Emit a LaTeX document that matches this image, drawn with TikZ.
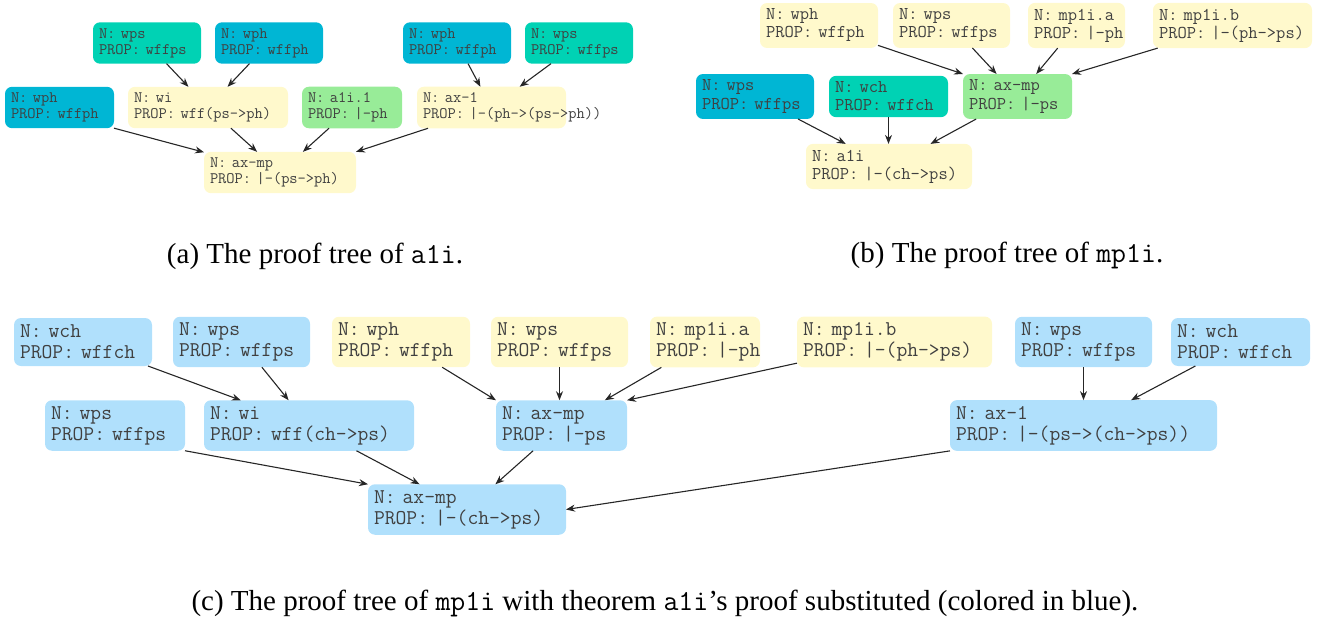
\documentclass[tikz,border=0pt]{standalone}
\usepackage{fontspec}
\setmainfont{Liberation Serif}
\usetikzlibrary{arrows.meta}
\definecolor{cteal}{RGB}{0,210,180}
\definecolor{cblue}{RGB}{0,182,212}
\definecolor{cyel}{RGB}{255,249,204}
\definecolor{cgreen}{RGB}{152,236,152}
\definecolor{clblue}{RGB}{176,224,252}
\newcommand\mybox[9]{%
 \node[box,fill=#6,font=\ttfamily\fontsize{#9}{#9}\selectfont,minimum width={(#4-#2)*1pt},minimum height={(#5-#3)*1pt},text width={(#4-#2-12)*1pt}] (#1) at ({(#2+#4)/2},{(#3+#5)/2}) {N:~#7\\PROP:~#8};}
\begin{document}
\begin{tikzpicture}[x=1pt,y=-1pt,
 box/.style={rounded corners=7pt,draw=none,align=left,inner sep=6pt,text=black!75,line width=0pt},
 ar/.style={-{Stealth[length=9pt,width=7pt]},line width=1.1pt,black!85},
 captxt/.style={font=\fontsize{29}{32}\selectfont}]
\useasboundingbox (0,0) rectangle (1325,623);
% panel a
\mybox{a1}{93}{24}{201}{62}{cteal}{wps}{wffps}{16}
\mybox{a2}{215}{24}{323}{62}{cblue}{wph}{wffph}{16}
\mybox{a3}{403}{24}{511}{62}{cblue}{wph}{wffph}{16}
\mybox{a4}{525}{24}{633}{62}{cteal}{wps}{wffps}{16}
\mybox{a5}{5}{89}{114}{126}{cblue}{wph}{wffph}{16}
\mybox{a6}{128}{89}{288}{126}{cyel}{wi}{wff(ps->ph)}{16}
\mybox{a7}{302}{89}{402}{126}{cgreen}{a1i.1}{|-ph}{16}
\mybox{a8}{417}{89}{566}{126}{cyel}{ax-1}{|-(ph->(ps->ph))}{16}
\mybox{a9}{204}{154}{356}{191}{cyel}{ax-mp}{|-(ps->ph)}{16}
\draw[ar] (a1) -- (a6); \draw[ar] (a2) -- (a6);
\draw[ar] (a3) -- (a8); \draw[ar] (a4) -- (a8);
\draw[ar] (a5.south east) -- (a9); \draw[ar] (a6) -- (a9);
\draw[ar] (a7) -- (a9); \draw[ar] (a8) -- (a9.north east);
\node[captxt] (ca) at (315,256) {(a) The proof tree of {\ttfamily a1i}.};
% panel b
\mybox{b1}{760}{5}{878}{46}{cyel}{wph}{wffph}{18}
\mybox{b2}{893}{5}{1010}{46}{cyel}{wps}{wffps}{18}
\mybox{b3}{1028}{5}{1125}{46}{cyel}{mp1i.a}{|-ph}{18}
\mybox{b4}{1153}{5}{1312}{46}{cyel}{mp1i.b}{|-(ph->ps)}{18}
\mybox{b5}{696}{76}{814}{117}{cblue}{wps}{wffps}{18}
\mybox{b6}{829}{76}{948}{117}{cteal}{wch}{wffch}{18}
\mybox{b7}{963}{76}{1072}{117}{cgreen}{ax-mp}{|-ps}{18}
\mybox{b8}{806}{146}{972}{187}{cyel}{a1i}{|-(ch->ps)}{18}
\draw[ar] (b1) -- (b7.north west); \draw[ar] (b2) -- (b7); \draw[ar] (b3) -- (b7);
\draw[ar] (b4) -- (b7.north east);
\draw[ar] (b5) -- (b8); \draw[ar] (b6) -- (b6|-b8.north); \draw[ar] (b7) -- (b8);
\node[captxt] (cb) at (1007,256) {(b) The proof tree of {\ttfamily mp1i}.};
% panel c
\mybox{c1}{14}{318}{152}{366}{clblue}{wch}{wffch}{21}
\mybox{c2}{173}{318}{310}{366}{clblue}{wps}{wffps}{21}
\mybox{c3}{332}{318}{470}{366}{cyel}{wph}{wffph}{21}
\mybox{c4}{491}{318}{628}{366}{cyel}{wps}{wffps}{21}
\mybox{c5}{650}{318}{760}{366}{cyel}{mp1i.a}{|-ph}{21}
\mybox{c6}{797}{318}{992}{366}{cyel}{mp1i.b}{|-(ph->ps)}{21}
\mybox{c7}{1015}{318}{1152}{366}{clblue}{wps}{wffps}{21}
\mybox{c8}{1171}{318}{1310}{366}{clblue}{wch}{wffch}{21}
\mybox{c9}{45}{402}{185}{449}{clblue}{wps}{wffps}{21}
\mybox{c10}{204}{402}{414}{449}{clblue}{wi}{wff(ch->ps)}{21}
\mybox{c11}{496}{402}{627}{449}{clblue}{ax-mp}{|-ps}{21}
\mybox{c12}{950}{402}{1217}{449}{clblue}{ax-1}{|-(ps->(ch->ps))}{21}
\mybox{c13}{368}{486}{566}{533}{clblue}{ax-mp}{|-(ch->ps)}{21}
\draw[ar] (c1) -- (c10); \draw[ar] (c2) -- (c10);
\draw[ar] (c3) -- (c11.north west); \draw[ar] (c4) -- (c4|-c11.north); \draw[ar] (c5) -- (c11);
\draw[ar] (c6) -- (c11.north east);
\draw[ar] (c7) -- (c7|-c12.north); \draw[ar] (c8) -- (c12);
\draw[ar] (c9.south east) -- (c13.north west); \draw[ar] (c10) -- (c13); \draw[ar] (c11) -- (c13);
\draw[ar] (c12.south west) -- (c13.east);
\node[captxt] (cc) at (665,604) {(c) The proof tree of {\ttfamily mp1i} with theorem {\ttfamily a1i}'s proof substituted (colored in blue).};
\end{tikzpicture}
\end{document}
